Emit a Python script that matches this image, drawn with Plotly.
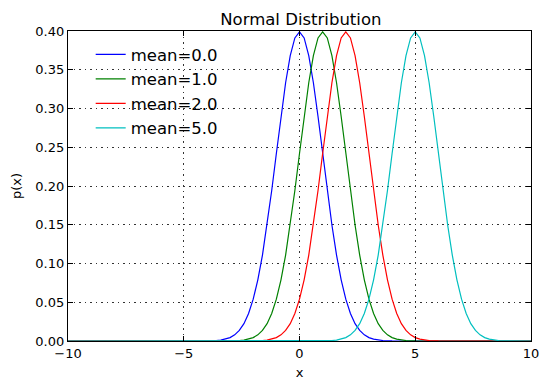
import plotly.graph_objects as go

# Series data (pdf values, std = 1)
x_mean0 = [-10, -4.0, -3.8, -3.6, -3.4, -3.2, -3.0, -2.8, -2.6, -2.4, -2.2, -2.0, -1.8, -1.6, -1.4, -1.2, -1.0,
           -0.8, -0.6, -0.4, -0.2, 0.0, 0.2, 0.4, 0.6, 0.8, 1.0, 1.2, 1.4, 1.6, 1.8, 2.0, 2.2, 2.4, 2.6, 2.8,
           3.0, 3.2, 3.4, 3.6, 3.8, 4.0, 10]
x_mean1 = [-10, -3.0, -2.8, -2.6, -2.4, -2.2, -2.0, -1.8, -1.6, -1.4, -1.2, -1.0, -0.8, -0.6, -0.4, -0.2, 0.0,
           0.2, 0.4, 0.6, 0.8, 1.0, 1.2, 1.4, 1.6, 1.8, 2.0, 2.2, 2.4, 2.6, 2.8, 3.0, 3.2, 3.4, 3.6, 3.8,
           4.0, 4.2, 4.4, 4.6, 4.8, 5.0, 10]
x_mean2 = [-10, -2.0, -1.8, -1.6, -1.4, -1.2, -1.0, -0.8, -0.6, -0.4, -0.2, 0.0, 0.2, 0.4, 0.6, 0.8, 1.0,
           1.2, 1.4, 1.6, 1.8, 2.0, 2.2, 2.4, 2.6, 2.8, 3.0, 3.2, 3.4, 3.6, 3.8, 4.0, 4.2, 4.4, 4.6, 4.8,
           5.0, 5.2, 5.4, 5.6, 5.8, 6.0, 10]
x_mean5 = [-10, 1.0, 1.2, 1.4, 1.6, 1.8, 2.0, 2.2, 2.4, 2.6, 2.8, 3.0, 3.2, 3.4, 3.6, 3.8, 4.0,
           4.2, 4.4, 4.6, 4.8, 5.0, 5.2, 5.4, 5.6, 5.8, 6.0, 6.2, 6.4, 6.6, 6.8, 7.0, 7.2, 7.4, 7.6, 7.8,
           8.0, 8.2, 8.4, 8.6, 8.8, 9.0, 10]

y_mean0 = [0.0, 0.0001, 0.0003, 0.0006, 0.0012, 0.0024, 0.0044, 0.0079, 0.0136, 0.0224, 0.0355, 0.0540,
           0.0790, 0.1109, 0.1497, 0.1942, 0.2420, 0.2897, 0.3332, 0.3683, 0.3910, 0.3989, 0.3910, 0.3683,
           0.3332, 0.2897, 0.2420, 0.1942, 0.1497, 0.1109, 0.0790, 0.0540, 0.0355, 0.0224, 0.0136, 0.0079,
           0.0044, 0.0024, 0.0012, 0.0006, 0.0003, 0.0001, 0.0]
y_mean1 = [0.0, 0.0001, 0.0003, 0.0006, 0.0012, 0.0024, 0.0044, 0.0079, 0.0136, 0.0224, 0.0355, 0.0540,
           0.0790, 0.1109, 0.1497, 0.1942, 0.2420, 0.2897, 0.3332, 0.3683, 0.3910, 0.3989, 0.3910, 0.3683,
           0.3332, 0.2897, 0.2420, 0.1942, 0.1497, 0.1109, 0.0790, 0.0540, 0.0355, 0.0224, 0.0136, 0.0079,
           0.0044, 0.0024, 0.0012, 0.0006, 0.0003, 0.0001, 0.0]
y_mean2 = [0.0, 0.0001, 0.0003, 0.0006, 0.0012, 0.0024, 0.0044, 0.0079, 0.0136, 0.0224, 0.0355, 0.0540,
           0.0790, 0.1109, 0.1497, 0.1942, 0.2420, 0.2897, 0.3332, 0.3683, 0.3910, 0.3989, 0.3910, 0.3683,
           0.3332, 0.2897, 0.2420, 0.1942, 0.1497, 0.1109, 0.0790, 0.0540, 0.0355, 0.0224, 0.0136, 0.0079,
           0.0044, 0.0024, 0.0012, 0.0006, 0.0003, 0.0001, 0.0]
y_mean5 = [0.0, 0.0001, 0.0003, 0.0006, 0.0012, 0.0024, 0.0044, 0.0079, 0.0136, 0.0224, 0.0355, 0.0540,
           0.0790, 0.1109, 0.1497, 0.1942, 0.2420, 0.2897, 0.3332, 0.3683, 0.3910, 0.3989, 0.3910, 0.3683,
           0.3332, 0.2897, 0.2420, 0.1942, 0.1497, 0.1109, 0.0790, 0.0540, 0.0355, 0.0224, 0.0136, 0.0079,
           0.0044, 0.0024, 0.0012, 0.0006, 0.0003, 0.0001, 0.0]

series_names = ["mean=0.0", "mean=1.0", "mean=2.0", "mean=5.0"]
series_x = [x_mean0, x_mean1, x_mean2, x_mean5]
series_y = [y_mean0, y_mean1, y_mean2, y_mean5]
series_colors = ["#0000ff", "#008000", "#ff0000", "#00bfbf"]

x_tickvals = [-10, -5, 0, 5, 10]
y_tickvals = [0.00, 0.05, 0.10, 0.15, 0.20, 0.25, 0.30, 0.35, 0.40]

FONT = "DejaVu Sans"

fig = go.Figure()
for name, xs, ys, col in zip(series_names, series_x, series_y, series_colors):
    fig.add_trace(go.Scatter(x=xs, y=ys, mode="lines", name=name,
                             line=dict(color=col, width=1.2)))

axis_common = dict(
    showline=True, linecolor="black", linewidth=1.3, mirror="allticks",
    ticks="inside", ticklen=5, tickwidth=1, tickcolor="black",
    showgrid=True, gridcolor="#333333", gridwidth=1, griddash="1.5px,4px",
    zeroline=False, tickfont=dict(family=FONT, size=13, color="black"),
)

fig.update_layout(
    width=551, height=391,
    margin=dict(l=68, r=15, t=31, b=50),
    paper_bgcolor="white", plot_bgcolor="white",
    font=dict(family=FONT, color="black"),
    title=dict(text="Normal Distribution", x=0.546, xanchor="center", y=0.952, yanchor="middle",
               font=dict(family=FONT, size=16.5, color="black")),
    xaxis=dict(range=[-10, 10], tickvals=x_tickvals,
               title=dict(text="x", font=dict(family=FONT, size=13), standoff=8), **axis_common),
    yaxis=dict(range=[0, 0.40], tickvals=y_tickvals, tickformat=".2f",
               title=dict(text="p(x)", font=dict(family=FONT, size=13), standoff=10), **axis_common),
    legend=dict(x=0.049, y=0.98, xanchor="left", yanchor="top", bgcolor="rgba(0,0,0,0)",
                borderwidth=0, font=dict(family=FONT, size=16.5, color="black"),
                tracegroupgap=0),
    showlegend=True,
)

fig.write_html("out.html", config={"displayModeBar": False},
               post_script="document.body.style.margin='0';")
